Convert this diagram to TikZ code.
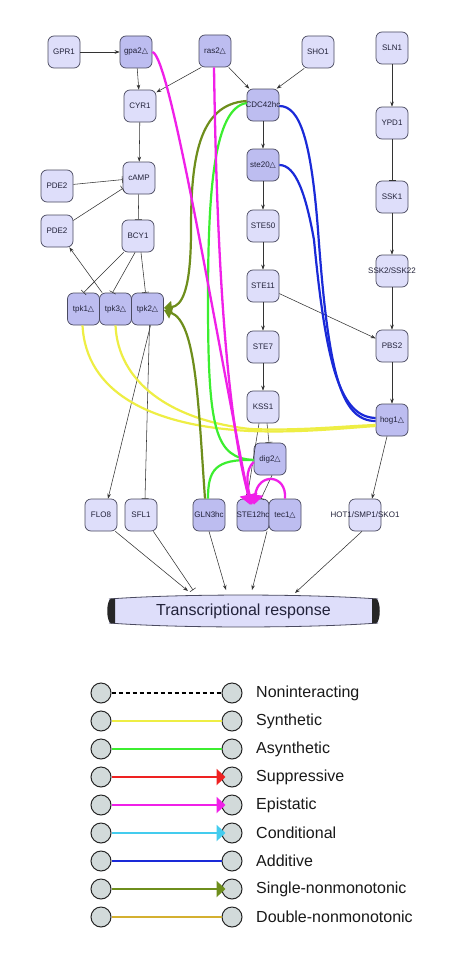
\documentclass[tikz,border=0pt]{standalone}
\usepackage{fontspec}
\setmainfont{Liberation Sans}
\newfontfamily\symf{DejaVu Sans}
\usetikzlibrary{arrows.meta}
\definecolor{nfl}{HTML}{DEDEFA}
\definecolor{nfd}{HTML}{BDBDF0}
\definecolor{nst}{HTML}{4A4A60}
\definecolor{ntx}{HTML}{22223A}
\definecolor{cmag}{HTML}{F020E8}
\definecolor{cgrn}{HTML}{3CEE30}
\definecolor{coli}{HTML}{6E8E1C}
\definecolor{cblu}{HTML}{1A2AD8}
\definecolor{cyel}{HTML}{EEEE44}
\definecolor{cred}{HTML}{EE2222}
\definecolor{ccya}{HTML}{44CCEE}
\definecolor{cgold}{HTML}{D4B030}
\definecolor{lgc}{HTML}{D2DADA}
\newcommand\lbx[1]{\makebox[0pt]{#1}}
\newcommand\tri{{\symf △}}
\begin{document}
\begin{tikzpicture}[x=1pt,y=-1pt,
  gene/.style={draw=nst, line width=0.7pt, fill=nfl, rounded corners=6pt, minimum width=32pt, minimum height=32pt, inner sep=0pt, text=ntx, font=\fontsize{8}{9.5}\selectfont},
  dgene/.style={gene, fill=nfd},
  act/.style={draw=black!80, line width=0.55pt, -{Stealth[length=5pt,width=3.6pt]}},
  inh/.style={draw=black!80, line width=0.55pt, -{Bar[width=7pt]}},
  epi/.style={draw=cmag, line width=2.3pt, -{Triangle[width=16pt,length=10pt]}},
  oli/.style={draw=coli, line width=2.2pt, -{Triangle[width=12pt,length=8pt]}},
  asy/.style={draw=cgrn, line width=2.2pt},
  add/.style={draw=cblu, line width=2.2pt},
  syn/.style={draw=cyel, line width=2.2pt},
  lgc/.style={circle, draw=black!85, line width=1pt, fill=lgc, minimum size=20pt, inner sep=0pt},
  lgt/.style={anchor=west, inner sep=0pt, text=black!90, font=\fontsize{16}{19}\selectfont},
  lgl/.style={line width=2pt},
  lga/.style={-{Triangle[width=16pt,length=9pt]}, shorten >=-4pt}
]
\useasboundingbox (0,0) rectangle (474,966);
\fill[white] (0,0) rectangle (474,966);

% nodes
\node[gene]  (gpr1)  at (64,52)  {\lbx{GPR1}};
\node[dgene] (gpa2)  at (136,52) {\lbx{gpa2\tri}};
\node[dgene] (ras2)  at (215,51) {\lbx{ras2\tri}};
\node[gene]  (sho1)  at (318,52) {\lbx{SHO1}};
\node[gene]  (sln1)  at (392,48) {\lbx{SLN1}};
\node[gene]  (cyr1)  at (140,106) {\lbx{CYR1}};
\node[dgene] (cdc42) at (263,105) {\lbx{CDC42hc}};
\node[gene]  (ypd1)  at (392,123) {\lbx{YPD1}};
\node[dgene] (ste20) at (263,165) {\lbx{ste20\tri}};
\node[gene]  (camp)  at (139,178) {\lbx{cAMP}};
\node[gene]  (pde2a) at (57,186) {\lbx{PDE2}};
\node[gene]  (ssk1)  at (392,197) {\lbx{SSK1}};
\node[gene]  (pde2b) at (57,231) {\lbx{PDE2}};
\node[gene]  (bcy1)  at (138,236) {\lbx{BCY1}};
\node[gene]  (ste50) at (263,226) {\lbx{STE50}};
\node[gene]  (ssk2)  at (392,271) {\lbx{SSK2/SSK22}};
\node[gene]  (ste11) at (263,286) {\lbx{STE11}};
\node[dgene] (tpk1)  at (83.5,309) {\lbx{tpk1\tri}};
\node[dgene] (tpk3)  at (115.5,309) {\lbx{tpk3\tri}};
\node[dgene] (tpk2)  at (147.5,309) {\lbx{tpk2\tri}};
\node[gene]  (ste7)  at (263,347) {\lbx{STE7}};
\node[gene]  (pbs2)  at (392,346) {\lbx{PBS2}};
\node[gene]  (kss1)  at (263,407) {\lbx{KSS1}};
\node[dgene] (hog1)  at (392,420) {\lbx{hog1\tri}};
\node[dgene] (dig2)  at (270,459) {\lbx{dig2\tri}};
\node[gene]  (flo8)  at (101,515) {\lbx{FLO8}};
\node[gene]  (sfl1)  at (141,515) {\lbx{SFL1}};
\node[dgene] (gln3)  at (209,515) {\lbx{GLN3hc}};
\node[dgene] (ste12) at (253,515) {\lbx{STE12hc}};
\node[dgene] (tec1)  at (285,515) {\lbx{tec1\tri}};
\node[gene]  (hot1)  at (365,515) {\lbx{HOT1/SMP1/SKO1}};

% transcriptional response
\fill[nfl] (109,599) .. controls (180,593.7) and (306,593.7) .. (378,599) -- (378,623) .. controls (306,628.3) and (180,628.3) .. (109,623) -- cycle;
\draw[nst, line width=0.8pt] (109,599) .. controls (180,593.7) and (306,593.7) .. (378,599);
\draw[nst, line width=0.8pt] (109,623) .. controls (180,628.3) and (306,628.3) .. (378,623);
\fill[black!85] (111,598.5) .. controls (106,601) and (106,621) .. (111,623.5) -- (115,623.2) -- (115,598.8) -- cycle;
\fill[black!85] (376,598.5) .. controls (381,601) and (381,621) .. (376,623.5) -- (372,623.2) -- (372,598.8) -- cycle;
\node[text=ntx, font=\fontsize{16}{19}\selectfont, inner sep=0pt] (tr) at (243.5,611) {Transcriptional response};
\coordinate (tra) at (188,591);
\coordinate (trb) at (193,590);
\coordinate (trc) at (226,590);
\coordinate (trd) at (252,590);
\coordinate (tre) at (295,593);

% black edges
\draw[act] (gpr1) -- (gpa2);
\draw[act] (gpa2) -- (cyr1);
\draw[act] (ras2.230) -- (cyr1.40);
\draw[act] (ras2.-50) -- (cdc42.130);
\draw[act] (sho1.-130) -- (cdc42.50);
\draw[act] (cyr1) -- (camp);
\draw[inh] (pde2a) -- (camp);
\draw[inh] (pde2b) -- (camp);
\draw[inh] (camp) -- (bcy1);
\draw[inh] ([xshift=2pt]bcy1.south west) -- (tpk1.north);
\draw[inh] (bcy1.260) -- ([xshift=-3pt]tpk3.north);
\draw[inh] ([xshift=3pt]bcy1.south) -- ([xshift=-2pt]tpk2.north);
\draw[act] ([xshift=3pt]tpk3.north west) -- ([xshift=-4pt]pde2b.south east);
\draw[act] (cdc42) -- (ste20);
\draw[act] (ste20) -- (ste50);
\draw[act] (ste50) -- (ste11);
\draw[act] (ste11) -- (ste7);
\draw[act] (ste7) -- (kss1);
\draw[act] (ste11) -- (pbs2);
\draw[act] (sln1) -- (ypd1);
\draw[inh] (ypd1) -- (ssk1);
\draw[act] (ssk1) -- (ssk2);
\draw[act] (ssk2) -- (pbs2);
\draw[act] (pbs2) -- (hog1);
\draw[act] ([xshift=-4pt]kss1.south) -- ([xshift=-6pt]ste12.north);
\draw[inh] ([xshift=4pt]kss1.south) -- ([xshift=-1pt]dig2.north);
\draw[inh] ([xshift=2pt]dig2.south) -- ([xshift=8pt]ste12.north);
\draw[act] ([xshift=-5pt]hog1.south) -- ([xshift=7pt]hot1.north);
\draw[act] ([xshift=3pt]tpk2.south) -- ([xshift=7pt]flo8.north);
\draw[inh] ([xshift=2pt]tpk2.south) -- ([xshift=4pt]sfl1.north);
\draw[act] ([xshift=-2pt]flo8.south east) -- (tra);
\draw[inh] ([xshift=-4pt]sfl1.south east) -- (trb);
\draw[act] (gln3.south) -- (trc);
\draw[act] ([xshift=14pt]ste12.south) -- (trd);
\draw[act] ([xshift=-3pt]hot1.south) -- (tre);

% coloured interactions
\draw[syn] ([xshift=-1pt]tpk1.south) .. controls (86,392) and (150,426) .. (250,431) .. controls (300,433) and (345,428) .. ([yshift=-6pt]hog1.west);
\draw[syn] (tpk3.south) .. controls (118,382) and (170,420) .. (250,429) .. controls (300,431) and (345,426) .. ([yshift=-5pt]hog1.west);
\draw[add] ([yshift=-1pt]cdc42.east) .. controls (300,106) and (311,140) .. (318,230) .. controls (328,370) and (340,421) .. ([yshift=-1pt]hog1.west);
\draw[add] (ste20.east) .. controls (296,165) and (306,195) .. (314,240) .. controls (326,365) and (340,417) .. ([yshift=2pt]hog1.west);
\draw[asy] ([yshift=2pt]cdc42.west) .. controls (214,108) and (208,190) .. (208,300) .. controls (208,430) and (215,458) .. ([yshift=-1pt]dig2.west);
\draw[asy] ([xshift=-1pt]gln3.north) .. controls (208,470) and (215,459) .. ([yshift=-1pt]dig2.west);
\draw[oli] ([yshift=4pt]cdc42.west) .. controls (198,104) and (191,160) .. (191,230) .. controls (191,290) and (182,306) .. ([yshift=1pt]tpk2.east);
\draw[oli] ([xshift=-4pt]gln3.north) .. controls (198,400) and (196,322) .. ([yshift=-1pt]tpk2.east);
\draw[epi] (gpa2.east) .. controls (170,55) and (215,330) .. ([xshift=-3pt,yshift=-6pt]ste12.north);
\draw[epi] ([xshift=-1pt]ras2.south) .. controls (216,200) and (222,400) .. ([xshift=-2pt,yshift=-6pt]ste12.north);
\draw[epi] ([yshift=-3pt]dig2.west) .. controls (245,470) and (247,485) .. ([xshift=-1pt,yshift=-6pt]ste12.north);
\draw[epi] (tec1.north) .. controls (287,474) and (258,472) .. ([xshift=1pt,yshift=-6pt]ste12.north);

% legend
\foreach \i/\y in {1/693,2/721,3/749,4/777,5/805,6/833,7/861,8/889,9/917} {
  \node[lgc] (la\i) at (101,\y) {};
  \node[lgc] (lb\i) at (232,\y) {};
}
\draw[lgl, black, line width=2.2pt, dash pattern=on 4pt off 3pt] (la1) -- (lb1);
\draw[lgl, cyel] (la2) -- (lb2);
\draw[lgl, cgrn] (la3) -- (lb3);
\draw[lgl, cred, lga] (la4) -- (lb4);
\draw[lgl, cmag, lga] (la5) -- (lb5);
\draw[lgl, ccya, lga] (la6) -- (lb6);
\draw[lgl, cblu] (la7) -- (lb7);
\draw[lgl, coli, lga] (la8) -- (lb8);
\draw[lgl, cgold] (la9) -- (lb9);
\node[lgt] (t1) at (256,693) {Noninteracting};
\node[lgt] (t2) at (256,721) {Synthetic};
\node[lgt] (t3) at (256,749) {Asynthetic};
\node[lgt] (t4) at (256,777) {Suppressive};
\node[lgt] (t5) at (256,805) {Epistatic};
\node[lgt] (t6) at (256,833) {Conditional};
\node[lgt] (t7) at (256,861) {Additive};
\node[lgt] (t8) at (256,889) {Single-nonmonotonic};
\node[lgt] (t9) at (256,917) {Double-nonmonotonic};
\end{tikzpicture}
\end{document}
